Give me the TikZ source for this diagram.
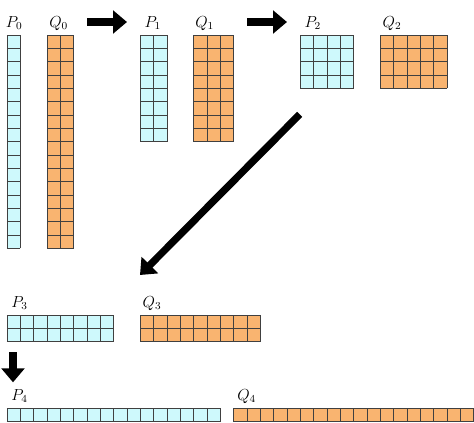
\documentclass[tikz,border=0pt]{standalone}
\usetikzlibrary{arrows.meta,calc}
\definecolor{pcyan}{RGB}{206,249,252}
\definecolor{qorange}{RGB}{249,180,112}
\tikzset{
  pcell/.style={fill=pcyan},
  qcell/.style={fill=qorange},
  gridline/.style={draw=black!75, line width=0.6pt, step=1},
  lab/.style={anchor=base west, inner sep=0pt, font=\fontsize{12}{14}\selectfont},
  bigarrow/.style={line width=5.4pt, -{Triangle[length=10.5pt,width=17pt]}},
}
% #1 name, #2 left x, #3 top y, #4 cols, #5 rows, #6 fill style
\newcommand\blockgrid[6]{%
  \path[#6] (#2,#3-#5) rectangle (#2+#4,#3);
  \draw[gridline] (#2,#3-#5) grid (#2+#4,#3);
  \coordinate (#1) at (#2,#3);
}
\begin{document}
\begin{tikzpicture}[x=10pt,y=10pt]
\useasboundingbox (-0.525,2.625) rectangle (35.025,-29.025);
% grids
\blockgrid{P0}{0}{0}{1}{16}{pcell}
\blockgrid{Q0}{3}{0}{2}{16}{qcell}
\blockgrid{P1}{10}{0}{2}{8}{pcell}
\blockgrid{Q1}{14}{0}{3}{8}{qcell}
\blockgrid{P2}{22}{0}{4}{4}{pcell}
\blockgrid{Q2}{28}{0}{5}{4}{qcell}
\blockgrid{P3}{0}{-21}{8}{2}{pcell}
\blockgrid{Q3}{10}{-21}{9}{2}{qcell}
\blockgrid{P4}{0}{-28}{16}{1}{pcell}
\blockgrid{Q4}{17}{-28}{18}{1}{qcell}
% labels
\node[lab] (lP0) at ($(P0)+(-0.1,0.6)$) {$P_0$};
\node[lab] (lQ0) at ($(Q0)+(0.15,0.6)$) {$Q_0$};
\node[lab] (lP1) at ($(P1)+(0.3,0.6)$) {$P_1$};
\node[lab] (lQ1) at ($(Q1)+(0.1,0.6)$) {$Q_1$};
\node[lab] (lP2) at ($(P2)+(0.3,0.6)$) {$P_2$};
\node[lab] (lQ2) at ($(Q2)+(0.15,0.6)$) {$Q_2$};
\node[lab] (lP3) at ($(P3)+(0.3,0.6)$) {$P_3$};
\node[lab] (lQ3) at ($(Q3)+(0.15,0.6)$) {$Q_3$};
\node[lab] (lP4) at ($(P4)+(0.3,0.6)$) {$P_4$};
\node[lab] (lQ4) at ($(Q4)+(0.25,0.6)$) {$Q_4$};
% arrows
\coordinate (a1s) at (6.0,0.975);
\coordinate (a1e) at (9.0,0.975);
\coordinate (a2s) at (18.0,0.975);
\coordinate (a2e) at (21.0,0.975);
\coordinate (a3s) at (21.95,-5.95);
\coordinate (a3e) at (9.975,-18.0);
\coordinate (a4s) at (0.45,-23.8);
\coordinate (a4e) at (0.45,-26.05);
\draw[bigarrow] (a1s) -- (a1e);
\draw[bigarrow] (a2s) -- (a2e);
\draw[bigarrow] (a3s) -- (a3e);
\draw[bigarrow] (a4s) -- (a4e);
\end{tikzpicture}
\end{document}
